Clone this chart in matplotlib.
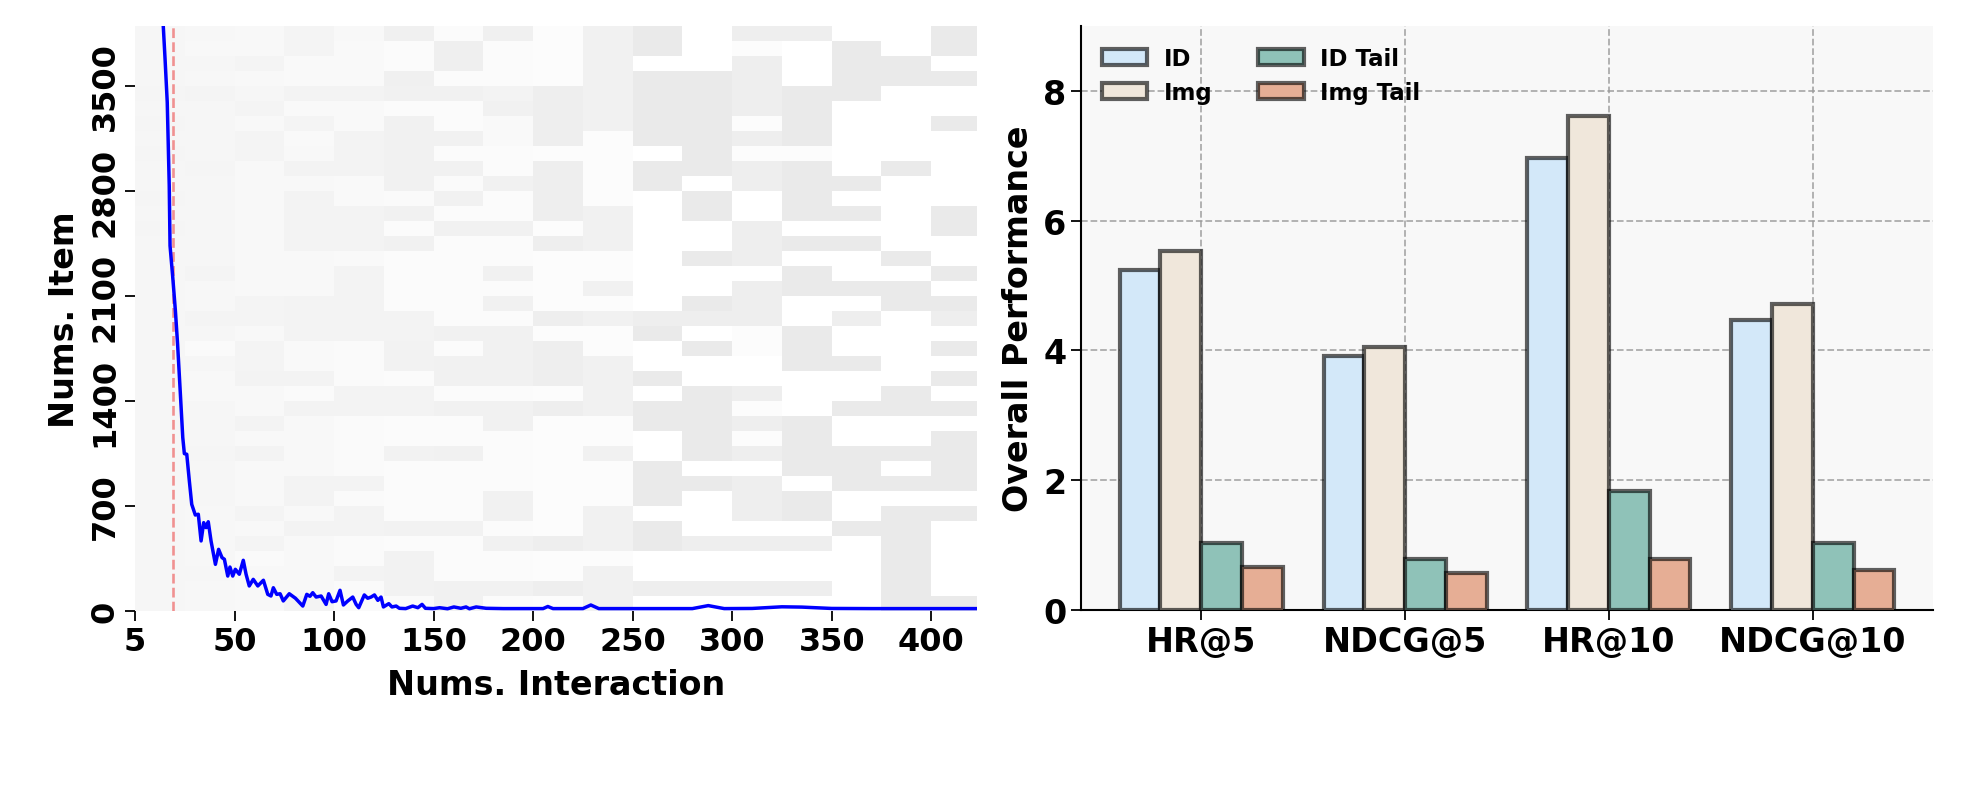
import numpy as np
import matplotlib
matplotlib.use("Agg")
import matplotlib.pyplot as plt

plt.rcParams['font.family'] = ['DejaVu Sans']
plt.rcParams['font.weight'] = 'bold'
plt.rcParams['axes.labelweight'] = 'bold'

# ---------------- left panel data ----------------
interaction = [13, 14.2, 15.1, 16.2, 17.2, 17.6, 18.9, 20.3, 21.4, 22.8, 24.0, 24.8, 26.0, 27.3,
               28.5, 30.3, 31.8, 33.2, 34.5, 35.7, 36.8, 38.2, 40.4, 42.0, 43.7, 44.9, 46.6,
               47.7, 49.1, 50.4, 52.4, 54.4, 55.8, 57.4, 59.4, 61.7, 64.5, 66.7, 68.3, 69.5,
               71.2, 72.9, 74.5, 77.5, 80.6, 84.3, 86.3, 87.9, 89.3, 91.0, 93.5, 96.0, 97.3,
               99.0, 101.0, 103.0, 104.7, 106.9, 109.4, 111.1, 112.4, 115.2, 116.9, 118.6,
               120.3, 122.0, 123.6, 124.8, 127.5, 129.1, 131.2, 132.8, 136, 139.5, 142.1,
               144.2, 145.9, 150, 153, 157, 160.2, 163.7, 166.3, 168, 171.4, 176.4, 185, 205,
               207.4, 210, 225, 229, 233, 280, 288, 296, 310, 325, 335, 350, 370, 423]
num_items = [4200, 3900, 3680, 3391, 2836, 2435, 2235, 2000, 1778, 1445, 1156, 1049, 1045, 867,
             711, 640, 645, 467, 589, 556, 595, 467, 311, 411, 356, 345, 233,
             293, 233, 278, 245, 338, 245, 167, 211, 167, 205, 111, 100, 155,
             111, 115, 67, 115, 85, 33, 111, 98, 122, 93, 100, 44, 115,
             62, 67, 138, 40, 67, 93, 44, 22, 107, 85, 93,
             107, 71, 93, 27, 49, 27, 33, 18, 16, 33, 22,
             44, 18, 16, 22, 15, 27, 18, 27, 15, 27, 18, 16, 16,
             30, 16, 16, 40, 16, 16, 36, 16, 17, 28, 26, 17, 16, 16]
tail_threshold = 19

x_tick_pos = [0, 50, 100, 150, 200, 250, 300, 350, 400]
x_tick_labels = ['5', '50', '100', '150', '200', '250', '300', '350', '400']
y_ticks_left = [0, 700, 1400, 2100, 2800, 3500]

# background cell shading (0 = white); rows listed top (3800-3900) to bottom (0-100),
# 17 columns of 25 interactions each
cell_shade = [
    [9, 8, 7, 11, 7, 15, 4, 15, 3, 14, 21, 0, 17, 17, 0, 0, 21],
    [9, 7, 7, 11, 6, 4, 16, 4, 3, 14, 21, 0, 3, 0, 21, 0, 21],
    [9, 9, 11, 6, 6, 4, 16, 4, 3, 14, 0, 0, 17, 0, 21, 21, 0],
    [9, 8, 7, 6, 6, 15, 4, 4, 3, 14, 21, 21, 17, 0, 21, 21, 21],
    [10, 11, 9, 12, 12, 14, 14, 12, 17, 14, 21, 21, 17, 21, 21, 0, 0],
    [9, 9, 11, 6, 6, 4, 4, 14, 17, 14, 21, 21, 17, 21, 0, 0, 0],
    [10, 9, 7, 11, 6, 14, 4, 6, 17, 14, 21, 21, 3, 21, 0, 0, 21],
    [9, 9, 11, 6, 12, 14, 14, 6, 17, 3, 21, 21, 17, 21, 0, 0, 0],
    [10, 9, 11, 7, 12, 14, 4, 4, 3, 3, 0, 21, 3, 3, 0, 0, 0],
    [9, 10, 7, 12, 12, 14, 14, 4, 17, 3, 21, 21, 17, 21, 0, 21, 0],
    [9, 9, 7, 7, 6, 14, 5, 14, 17, 3, 21, 0, 17, 21, 21, 0, 0],
    [10, 9, 7, 12, 6, 5, 14, 4, 17, 3, 0, 21, 0, 21, 0, 0, 0],
    [9, 9, 7, 12, 12, 14, 4, 4, 17, 14, 0, 21, 0, 21, 21, 0, 21],
    [10, 9, 7, 12, 12, 4, 14, 14, 3, 14, 0, 0, 17, 0, 0, 0, 21],
    [9, 9, 7, 12, 12, 14, 4, 4, 17, 14, 0, 0, 17, 21, 21, 0, 0],
    [9, 9, 7, 7, 6, 4, 4, 4, 3, 3, 0, 21, 17, 0, 0, 21, 0],
    [9, 11, 7, 7, 12, 4, 4, 14, 3, 3, 0, 0, 0, 21, 0, 0, 21],
    [9, 8, 7, 7, 12, 4, 4, 4, 3, 14, 0, 0, 17, 21, 21, 21, 0],
    [9, 8, 11, 12, 12, 4, 4, 14, 3, 3, 0, 21, 17, 0, 0, 21, 21],
    [9, 11, 11, 12, 12, 12, 4, 4, 17, 14, 17, 17, 17, 0, 17, 0, 17],
    [9, 9, 7, 12, 12, 12, 14, 14, 3, 3, 21, 0, 3, 21, 0, 0, 0],
    [9, 5, 11, 6, 5, 13, 4, 14, 17, 3, 0, 21, 3, 21, 0, 0, 21],
    [9, 9, 11, 6, 5, 13, 14, 14, 17, 14, 0, 0, 0, 21, 21, 0, 0],
    [9, 7, 12, 12, 5, 4, 14, 14, 17, 14, 21, 0, 0, 0, 0, 0, 21],
    [9, 7, 7, 5, 12, 12, 4, 4, 3, 14, 0, 21, 17, 0, 0, 21, 0],
    [9, 9, 7, 12, 12, 12, 14, 14, 17, 14, 21, 21, 3, 0, 21, 21, 21],
    [9, 9, 12, 7, 5, 4, 4, 14, 3, 3, 21, 21, 17, 21, 0, 0, 0],
    [9, 9, 7, 7, 5, 4, 4, 4, 3, 3, 0, 21, 3, 21, 0, 0, 21],
    [9, 10, 12, 7, 5, 13, 14, 4, 3, 14, 0, 21, 17, 21, 21, 21, 21],
    [9, 9, 7, 7, 5, 4, 4, 4, 3, 3, 21, 0, 0, 21, 21, 0, 21],
    [9, 9, 7, 12, 12, 4, 4, 4, 3, 3, 21, 21, 17, 0, 21, 21, 21],
    [9, 9, 7, 12, 5, 4, 4, 14, 3, 3, 21, 0, 17, 21, 0, 0, 0],
    [9, 8, 11, 7, 12, 4, 4, 14, 3, 14, 0, 0, 17, 21, 0, 21, 21],
    [9, 8, 7, 12, 12, 13, 13, 4, 3, 14, 21, 0, 0, 0, 21, 21, 0],
    [9, 8, 11, 7, 5, 4, 4, 14, 17, 14, 21, 17, 17, 17, 0, 21, 0],
    [9, 8, 5, 7, 5, 13, 4, 4, 3, 3, 0, 0, 0, 0, 0, 21, 0],
    [9, 9, 7, 7, 12, 13, 4, 4, 3, 14, 0, 0, 0, 0, 0, 21, 0],
    [9, 8, 7, 7, 5, 13, 14, 14, 17, 14, 17, 17, 17, 17, 0, 21, 0],
    [9, 8, 7, 12, 5, 5, 14, 4, 3, 14, 0, 0, 0, 0, 0, 21, 21],
]
cell_col_edges = list(range(0, 426, 25))
cell_row_edges = list(range(3900, -1, -100))

# ---------------- right panel data ----------------
metrics = ['HR@5', 'NDCG@5', 'HR@10', 'NDCG@10']
series_names = ['ID', 'Img', 'ID Tail', 'Img Tail']
id_vals = [5.24, 3.92, 6.97, 4.47]
img_vals = [5.54, 4.06, 7.61, 4.72]
id_tail_vals = [1.03, 0.78, 1.84, 1.03]
img_tail_vals = [0.67, 0.57, 0.79, 0.61]
series_colors = ['#d3e8f9', '#f0e7db', '#8fc2b8', '#e6ae95']

W, H = 1980, 812
fig = plt.figure(figsize=(W / 100, H / 100), dpi=100)

# ---------------- left panel ----------------
ax1 = fig.add_axes([135 / W, 1 - 612 / H, (977 - 135) / W, (612 - 27) / H])
shade = np.array(cell_shade, dtype=float)
ax1.pcolormesh(cell_col_edges, cell_row_edges, 255 - shade, cmap='gray',
               vmin=0, vmax=255, shading='flat', zorder=0)
ax1.plot(interaction, num_items, color='#0000ff', lw=2.5, zorder=3)
ax1.axvline(tail_threshold, color='#f08080', ls='--', lw=1.9, alpha=0.85, zorder=2)
ax1.set_xlim(0, 423)
ax1.set_ylim(0, 3900)
ax1.set_xticks(x_tick_pos)
ax1.set_xticklabels(x_tick_labels)
ax1.set_yticks(y_ticks_left)
ax1.set_yticklabels([str(v) for v in y_ticks_left], rotation=90, va='center')
for s in ax1.spines.values():
    s.set_visible(False)
ax1.tick_params(labelsize=23, width=1.3, length=7)
ax1.set_xlabel('Nums. Interaction', fontsize=24, fontweight='bold', labelpad=8)
ax1.set_ylabel('Nums. Item', fontsize=24, fontweight='bold', labelpad=6)

# ---------------- right panel ----------------
ax2 = fig.add_axes([1081 / W, 1 - 611 / H, (1933 - 1081) / W, (611 - 27) / H])
ax2.set_facecolor('#f8f8f8')
xpos = np.arange(len(metrics))
bw = 0.2
all_vals = [id_vals, img_vals, id_tail_vals, img_tail_vals]
for i, (name, vals, col) in enumerate(zip(series_names, all_vals, series_colors)):
    ax2.bar(xpos + (i - 1.5) * bw, vals, width=bw, color=col,
            edgecolor=(0, 0, 0, 0.62), linewidth=3, label=name, zorder=3)
ax2.set_ylim(0, 9)
ax2.set_yticks([0, 2, 4, 6, 8])
ax2.set_xticks(xpos)
ax2.set_xticklabels(metrics)
ax2.grid(True, ls='--', color='#999999', lw=1.3, alpha=0.8, zorder=0)
ax2.set_axisbelow(True)
ax2.spines['top'].set_visible(False)
ax2.spines['right'].set_visible(False)
ax2.spines['left'].set_linewidth(1.5)
ax2.spines['bottom'].set_linewidth(1.5)
ax2.tick_params(labelsize=24, width=1.3, length=7)
ax2.set_ylabel('Overall Performance', fontsize=24, fontweight='bold', labelpad=6)
ax2.legend(loc='upper left', ncol=2, frameon=False, fontsize=16.5,
           handlelength=2.0, columnspacing=2.0, handletextpad=0.7, labelspacing=0.5)

fig.savefig('out.png', dpi=100)
